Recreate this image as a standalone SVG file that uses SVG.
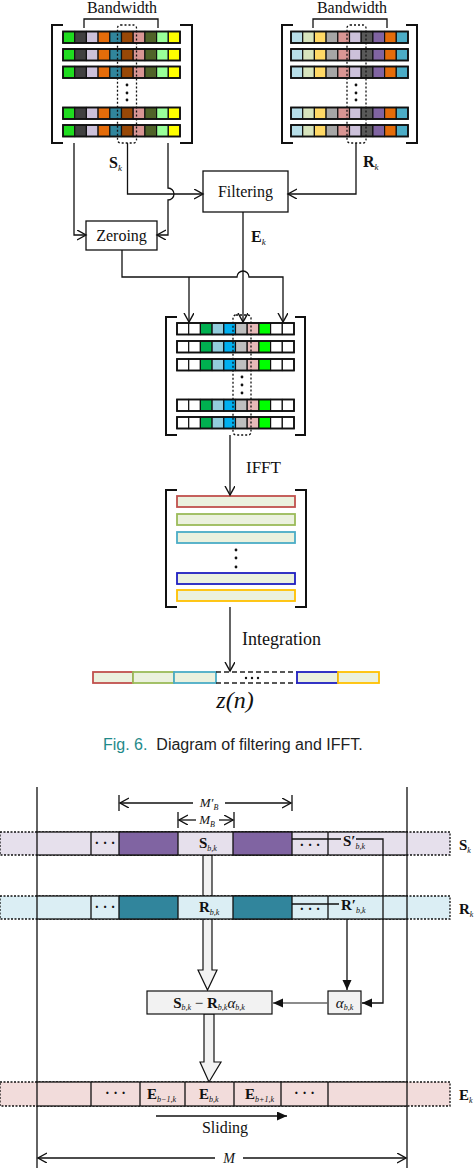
<svg xmlns="http://www.w3.org/2000/svg" xmlns:xlink="http://www.w3.org/1999/xlink" width="474" height="1168" viewBox="0 0 474 1168">
<style>
.ln{fill:none;stroke:#111;stroke-width:1.3}
.br{fill:none;stroke:#111;stroke-width:2}
.c{stroke:#111;stroke-width:1.2}
.dash{fill:none;stroke:#111;stroke-width:1.3;stroke-dasharray:2,2}
.t{font-family:"Liberation Serif","Times New Roman",serif;fill:#111}
.it{font-style:italic}
.b{font-weight:bold}
.box{fill:#fff;stroke:#111;stroke-width:1.3}
.bar{fill:#ebf1de;stroke-width:1.8}
.gbox{fill:#f2f2f2;stroke:#111;stroke-width:1.2}
.hol{fill:#f2f2f2;stroke:#111;stroke-width:1.2}
.dot{fill:#111}
</style>
<defs>
<marker id="open" markerUnits="userSpaceOnUse" markerWidth="12" markerHeight="12" refX="9" refY="5" orient="auto"><path d="M0,0 L9,5 L0,10" fill="none" stroke="#111" stroke-width="1.4"/></marker>
<marker id="fill" markerUnits="userSpaceOnUse" markerWidth="12" markerHeight="12" refX="10" refY="4.5" orient="auto"><path d="M0,0 L10,4.5 L0,9 z" fill="#111"/></marker>
<g id="rowL">
<rect class="c" x="0" y="0" width="11.7" height="11.5" fill="#1fdc1f"/>
<rect class="c" x="11.7" y="0" width="11.7" height="11.5" fill="#404040"/>
<rect class="c" x="23.4" y="0" width="11.7" height="11.5" fill="#ccc1da"/>
<rect class="c" x="35.1" y="0" width="11.7" height="11.5" fill="#e46c0a"/>
<rect class="c" x="46.8" y="0" width="11.7" height="11.5" fill="#31859c"/>
<rect class="c" x="58.5" y="0" width="11.7" height="11.5" fill="#984807"/>
<rect class="c" x="70.2" y="0" width="11.7" height="11.5" fill="#d99694"/>
<rect class="c" x="81.9" y="0" width="11.7" height="11.5" fill="#4f6228"/>
<rect class="c" x="93.6" y="0" width="11.7" height="11.5" fill="#99ff99"/>
<rect class="c" x="105.3" y="0" width="11.7" height="11.5" fill="#ffff00"/>
<rect x="0" y="0" width="117" height="11.5" fill="none" stroke="#111" stroke-width="1.8"/>
</g>
<g id="rowR">
<rect class="c" x="0" y="0" width="11.7" height="11.5" fill="#b7dee8"/>
<rect class="c" x="11.7" y="0" width="11.7" height="11.5" fill="#d7e4bd"/>
<rect class="c" x="23.4" y="0" width="11.7" height="11.5" fill="#ffd966"/>
<rect class="c" x="35.1" y="0" width="11.7" height="11.5" fill="#a6a6a6"/>
<rect class="c" x="46.8" y="0" width="11.7" height="11.5" fill="#d99694"/>
<rect class="c" x="58.5" y="0" width="11.7" height="11.5" fill="#ccc1da"/>
<rect class="c" x="70.2" y="0" width="11.7" height="11.5" fill="#595959"/>
<rect class="c" x="81.9" y="0" width="11.7" height="11.5" fill="#8064a2"/>
<rect class="c" x="93.6" y="0" width="11.7" height="11.5" fill="#e46c0a"/>
<rect class="c" x="105.3" y="0" width="11.7" height="11.5" fill="#4bacc6"/>
<rect x="0" y="0" width="117" height="11.5" fill="none" stroke="#111" stroke-width="1.8"/>
</g>
<g id="rowM">
<rect class="c" x="0" y="0" width="11.7" height="11.5" fill="#ffffff"/>
<rect class="c" x="11.7" y="0" width="11.7" height="11.5" fill="#ffffff"/>
<rect class="c" x="23.4" y="0" width="11.7" height="11.5" fill="#00b050"/>
<rect class="c" x="35.1" y="0" width="11.7" height="11.5" fill="#93cddd"/>
<rect class="c" x="46.8" y="0" width="11.7" height="11.5" fill="#00b0f0"/>
<rect class="c" x="58.5" y="0" width="11.7" height="11.5" fill="#bfbfbf"/>
<rect class="c" x="70.2" y="0" width="11.7" height="11.5" fill="#e6b9b8"/>
<rect class="c" x="81.9" y="0" width="11.7" height="11.5" fill="#00ff00"/>
<rect class="c" x="93.6" y="0" width="11.7" height="11.5" fill="#ffffff"/>
<rect class="c" x="105.3" y="0" width="11.7" height="11.5" fill="#ffffff"/>
<rect x="0" y="0" width="117" height="11.5" fill="none" stroke="#111" stroke-width="1.8"/>
</g>
</defs>
<rect width="474" height="1168" fill="#fff"/>

<!-- Top-left matrix S_k -->
<g id="matrixS">
<text class="t" x="122" y="13" font-size="16" text-anchor="middle">Bandwidth</text>
<path class="ln" d="M84,28 V19 H158 V28"/>
<path class="br" d="M63,25 H52 V143 H63 M180,25 H192 V143 H180"/>
<use xlink:href="#rowL" x="63" y="31.5"/>
<use xlink:href="#rowL" x="63" y="49"/>
<use xlink:href="#rowL" x="63" y="66.5"/>
<use xlink:href="#rowL" x="63" y="107.5"/>
<use xlink:href="#rowL" x="63" y="125"/>
<rect class="dash" x="117.5" y="25" width="19" height="118" rx="3"/>
<circle class="dot" cx="127" cy="85" r="1.4"/><circle class="dot" cx="127" cy="93" r="1.4"/><circle class="dot" cx="127" cy="100" r="1.4"/>
<text class="t b" x="109" y="168" font-size="16">S<tspan class="it" font-weight="normal" font-size="9" dy="3">k</tspan></text>
</g>

<!-- Top-right matrix R_k -->
<g id="matrixR">
<text class="t" x="352" y="13" font-size="16" text-anchor="middle">Bandwidth</text>
<path class="ln" d="M313,28 V19 H387 V28"/>
<path class="br" d="M293,25 H282 V143 H293 M406,25 H417 V143 H406"/>
<use xlink:href="#rowR" x="291" y="31.5"/>
<use xlink:href="#rowR" x="291" y="49"/>
<use xlink:href="#rowR" x="291" y="66.5"/>
<use xlink:href="#rowR" x="291" y="107.5"/>
<use xlink:href="#rowR" x="291" y="125"/>
<rect class="dash" x="347" y="25" width="19" height="118" rx="3"/>
<circle class="dot" cx="356" cy="85" r="1.4"/><circle class="dot" cx="356" cy="93" r="1.4"/><circle class="dot" cx="356" cy="100" r="1.4"/>
<text class="t b" x="363" y="167" font-size="16">R<tspan class="it" font-weight="normal" font-size="9" dy="3">k</tspan></text>
</g>

<g id="filtering">
<rect class="box" x="203" y="171" width="85" height="41"/>
<text class="t" x="245.5" y="197" font-size="16" text-anchor="middle">Filtering</text>
</g>
<g id="zeroing">
<rect class="box" x="86" y="221" width="71" height="29"/>
<text class="t" x="121.5" y="241" font-size="16" text-anchor="middle">Zeroing</text>
</g>
<text class="t b" x="251" y="242" font-size="16">E<tspan class="it" font-weight="normal" font-size="9" dy="3">k</tspan></text>

<!-- Middle matrix -->
<g id="matrixE">
<path class="br" d="M177,317 H166 V435 H177 M295,317 H305 V435 H295"/>
<use xlink:href="#rowM" x="177" y="323"/>
<use xlink:href="#rowM" x="177" y="341"/>
<use xlink:href="#rowM" x="177" y="359"/>
<use xlink:href="#rowM" x="177" y="399.5"/>
<use xlink:href="#rowM" x="177" y="417"/>
<rect class="dash" x="233" y="315" width="18" height="120" rx="3"/>
<circle class="dot" cx="242" cy="377" r="1.4"/><circle class="dot" cx="242" cy="385" r="1.4"/><circle class="dot" cx="242" cy="393" r="1.4"/>
</g>

<text class="t" x="246" y="473" font-size="17">IFFT</text>

<!-- IFFT matrix -->
<g id="matrixIFFT">
<path class="br" d="M177,490 H166 V607 H177 M295,490 H306 V607 H295"/>
<rect class="bar" x="177" y="496" width="118" height="11" stroke="#c0504d"/>
<rect class="bar" x="177" y="514" width="118" height="11" stroke="#9bbb59"/>
<rect class="bar" x="177" y="532" width="118" height="11" stroke="#4bacc6"/>
<rect class="bar" x="177" y="573" width="118" height="11" stroke="#1f1fc0"/>
<rect class="bar" x="177" y="590" width="118" height="11" stroke="#ffc000"/>
<circle class="dot" cx="236" cy="550" r="1.4"/><circle class="dot" cx="236" cy="558" r="1.4"/><circle class="dot" cx="236" cy="567" r="1.4"/>
</g>

<text class="t" x="242" y="645" font-size="18">Integration</text>

<g id="signal">
<rect class="bar" x="93" y="672" width="40" height="11" stroke="#c0504d"/>
<rect class="bar" x="133" y="672" width="41" height="11" stroke="#9bbb59"/>
<rect class="bar" x="174" y="672" width="42" height="11" stroke="#4bacc6"/>
<path d="M216,672 H297 M216,683 H297" fill="none" stroke="#222" stroke-width="1.4" stroke-dasharray="5,3"/>
<circle class="dot" cx="246" cy="678" r="1.2"/><circle class="dot" cx="252" cy="678" r="1.2"/><circle class="dot" cx="258" cy="678" r="1.2"/>
<rect class="bar" x="297" y="672" width="41" height="11" stroke="#1f1fc0"/>
<rect class="bar" x="338" y="672" width="41" height="11" stroke="#ffc000"/>
<text class="t it" x="235" y="708" font-size="24" text-anchor="middle">z(n)</text>
</g>

<g id="connectors-top">
<path class="ln" d="M74,143 V235 H86" marker-end="url(#open)"/>
<path class="ln" d="M127.5,143 V194 H203" marker-end="url(#open)"/>
<path class="ln" d="M168,143 V188 A6,6 0 0 1 168,200 V235 H157" marker-end="url(#open)"/>
<path class="ln" d="M356,143 V194 H288" marker-end="url(#open)"/>
<path class="ln" d="M243,212 V322" marker-end="url(#open)"/>
<path class="ln" d="M122,250 V277 H237 A6,6 0 0 1 249,277 H283 V322" marker-end="url(#open)"/>
<path class="ln" d="M189,277 V322" marker-end="url(#open)"/>
<path class="ln" d="M230,435 V495" marker-end="url(#open)"/>
<path class="ln" d="M230,607 V671" marker-end="url(#open)"/>
</g>

<text x="103" y="750" font-family="Liberation Sans, Arial, sans-serif" font-size="16" fill="#222" xml:space="preserve"><tspan fill="#1f8a8a">Fig. 6.</tspan>  Diagram of filtering and IFFT.</text>

<!-- Bottom figure -->
<g id="frame">
<path class="ln" d="M37,787 V1168 M407,787 V1168"/>
</g>

<g id="dims">
<path class="ln" d="M119,795 V811 M292,795 V811 M178,812 V828 M234,812 V828"/>
<path class="ln" d="M193,803 H120" marker-end="url(#open)"/>
<path class="ln" d="M225,803 H291" marker-end="url(#open)"/>
<text class="t it" x="209" y="807" font-size="13" text-anchor="middle">M′<tspan font-size="8" dy="3">B</tspan></text>
<path class="ln" d="M196,820 H179" marker-end="url(#open)"/>
<path class="ln" d="M219,820 H233" marker-end="url(#open)"/>
<text class="t it" x="207" y="824" font-size="13" text-anchor="middle">M<tspan font-size="8" dy="3">B</tspan></text>
</g>

<!-- hollow arrows (under rows) -->
<g id="hollow">
<path class="hol" d="M203,855 V970 H198 L207.5,990 L217,970 H212 V855 Z"/>
<path class="hol" d="M204,1014 V1062 H200 L209,1082 L221,1062 H214 V1014 Z"/>
</g>

<g id="rowSk">
<rect x="0" y="832" width="450" height="23" fill="#e6e0ec" stroke="#111" stroke-width="1.3" stroke-dasharray="2,1.5"/>
<rect x="37" y="832" width="370" height="23" fill="#e6e0ec" stroke="#111" stroke-width="1.3"/>
<rect x="119" y="832" width="59" height="23" fill="#8064a2" stroke="#111" stroke-width="1.3"/>
<rect x="233" y="832" width="59" height="23" fill="#8064a2" stroke="#111" stroke-width="1.3"/>
<path class="ln" d="M91,832 V855 M328,832 V855"/>
<text class="t b" x="105" y="848" font-size="14" text-anchor="middle">· · ·</text>
<text class="t b" x="310" y="850" font-size="14" text-anchor="middle">· · ·</text>
<text class="t b" x="199" y="848" font-size="15">S<tspan class="it" font-weight="normal" font-size="8" dy="3">b,k</tspan></text>
<text class="t b" x="343" y="846" font-size="15">S′<tspan class="it" font-weight="normal" font-size="8" dy="3">b,k</tspan></text>
<text class="t b" x="459" y="850" font-size="15">S<tspan class="it" font-weight="normal" font-size="8" dy="3">k</tspan></text>
</g>

<g id="rowRk">
<rect x="0" y="896" width="450" height="23" fill="#dbeef4" stroke="#111" stroke-width="1.3" stroke-dasharray="2,1.5"/>
<rect x="37" y="896" width="370" height="23" fill="#dbeef4" stroke="#111" stroke-width="1.3"/>
<rect x="119" y="896" width="59" height="23" fill="#31859c" stroke="#111" stroke-width="1.3"/>
<rect x="233" y="896" width="59" height="23" fill="#31859c" stroke="#111" stroke-width="1.3"/>
<path class="ln" d="M91,896 V919 M328,896 V919"/>
<text class="t b" x="105" y="912" font-size="14" text-anchor="middle">· · ·</text>
<text class="t b" x="310" y="914" font-size="14" text-anchor="middle">· · ·</text>
<text class="t b" x="199" y="912" font-size="15">R<tspan class="it" font-weight="normal" font-size="8" dy="3">b,k</tspan></text>
<text class="t b" x="341" y="910" font-size="15">R′<tspan class="it" font-weight="normal" font-size="8" dy="3">b,k</tspan></text>
<text class="t b" x="459" y="914" font-size="15">R<tspan class="it" font-weight="normal" font-size="8" dy="3">k</tspan></text>
</g>

<g id="formula">
<rect class="gbox" x="147" y="991" width="125" height="23"/>
<text class="t" x="209" y="1008" font-size="15" text-anchor="middle"><tspan class="b">S</tspan><tspan class="it" font-size="8" dy="2">b,k</tspan><tspan dy="-2"> − </tspan><tspan class="b">R</tspan><tspan class="it" font-size="8" dy="2">b,k</tspan><tspan class="it" dy="-2">α</tspan><tspan class="it" font-size="8" dy="2">b,k</tspan></text>
</g>
<g id="alpha">
<rect class="gbox" x="328" y="991" width="33" height="23"/>
<text class="t" x="344.5" y="1008" font-size="15" text-anchor="middle"><tspan class="it">α</tspan><tspan class="it" font-size="8" dy="2">b,k</tspan></text>
</g>

<g id="rowEk">
<rect x="0" y="1082" width="450" height="24" fill="#f2dcdb" stroke="#111" stroke-width="1.3" stroke-dasharray="2,1.5"/>
<rect x="37" y="1082" width="370" height="24" fill="#f2dcdb" stroke="#111" stroke-width="1.3"/>
<path class="ln" d="M91,1082 V1106 M140,1082 V1106 M185,1082 V1106 M234,1082 V1106 M281,1082 V1106 M328,1082 V1106"/>
<text class="t b" x="115.5" y="1098" font-size="14" text-anchor="middle">· · ·</text>
<text class="t b" x="304.5" y="1098" font-size="14" text-anchor="middle">· · ·</text>
<text class="t b" x="147" y="1099" font-size="15">E<tspan class="it" font-weight="normal" font-size="8" dy="3">b−1,k</tspan></text>
<text class="t b" x="199" y="1099" font-size="15">E<tspan class="it" font-weight="normal" font-size="8" dy="3">b,k</tspan></text>
<text class="t b" x="245" y="1099" font-size="15">E<tspan class="it" font-weight="normal" font-size="8" dy="3">b+1,k</tspan></text>
<text class="t b" x="459" y="1100" font-size="15">E<tspan class="it" font-weight="normal" font-size="8" dy="3">k</tspan></text>
</g>

<g id="connectors-bottom">
<path class="ln" d="M292,839 H341 M356,839 H383 V1003 H362" marker-end="url(#fill)"/>
<path class="ln" d="M292,904 H339"/>
<path class="ln" d="M347,919 V990" marker-end="url(#fill)"/>
<path d="M328,1003 H273" fill="none" stroke="#666" stroke-width="1.3" marker-end="url(#fill)"/>
<path class="ln" d="M156,1116 H287" marker-end="url(#fill)"/>
<path class="ln" d="M215,1158 H38" marker-end="url(#open)"/>
<path class="ln" d="M243,1158 H406" marker-end="url(#open)"/>
</g>
<text class="t" x="225" y="1133" font-size="16" text-anchor="middle">Sliding</text>
<text class="t it" x="229" y="1163" font-size="14" text-anchor="middle">M</text>
</svg>
